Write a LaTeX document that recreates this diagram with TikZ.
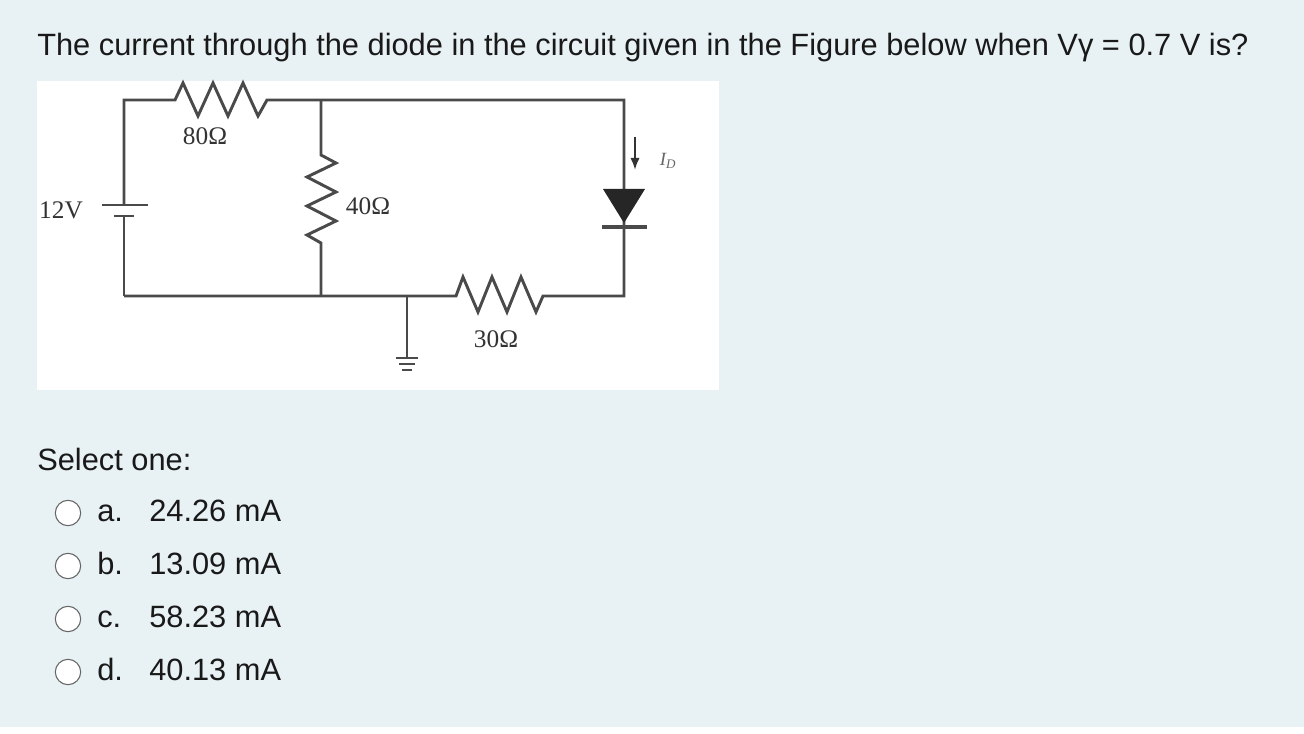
\documentclass[tikz,border=0pt]{standalone}
\usepackage{fontspec}
\usetikzlibrary{arrows.meta}
\setmainfont{Liberation Sans}
\newfontfamily\serifc{Liberation Serif}
\definecolor{bgc}{HTML}{E8F1F4}
\definecolor{wirec}{HTML}{4A4A4A}
\begin{document}
\begin{tikzpicture}[x=0.75pt,y=-0.75pt,
  wire/.style={draw=wirec,line width=2.2pt,line join=miter},
  qtext/.style={anchor=base west,inner sep=0,font=\fontsize{23.1}{26}\selectfont,text=black!90},
  otext/.style={anchor=base west,inner sep=0,font=\fontsize{23.1}{26}\selectfont,text=black!90},
  clab/.style={inner sep=0,font=\serifc\fontsize{19}{22}\selectfont,text=black!80},
  radio/.style={draw=black!60,line width=0.8pt,fill=white,circle,minimum size=19pt,inner sep=0}]
\fill[bgc] (0,0) rectangle (1304,734);
\fill[white] (0,727) rectangle (1304,734);
\fill[white] (37,81) rectangle (719,390);
\node[qtext] (title) at (37,56) {The current through the diode in the circuit given in the Figure below when Vγ = 0.7 V is?};
% circuit coordinates
\coordinate (tl) at (124,100);
\coordinate (bl) at (124,296);
\coordinate (tm) at (321,100);
\coordinate (bm) at (321,296);
\coordinate (tr) at (624,100);
\coordinate (br) at (624,296);
\coordinate (gnd) at (407,296);
% top left, 80 ohm
\draw[wire] (bl) -- (124,216);
\draw[wire] (124,205) -- (tl) -- (175,100) -- (183,83) -- (198,116) -- (213,83) -- (228,116) -- (243,83) -- (258,116) -- (267,100) -- (tm) -- (tr) -- (624,227);
% battery
\draw[wire] (102,205) -- (148,205);
\draw[wire] (114,216) -- (134,216);
% 40 ohm
\draw[wire] (tm) -- (321,155) -- (336,163) -- (307,177) -- (336,192) -- (307,206) -- (336,221) -- (307,235) -- (321,243) -- (bm);
% bottom
\draw[wire] (bl) -- (bm) -- (gnd) -- (456,296) -- (463,277) -- (478,312) -- (492,277) -- (507,312) -- (521,277) -- (536,312) -- (543,296) -- (br) -- (624,227);
% ground
\draw[wire] (gnd) -- (407,358);
\draw[wire] (396,358) -- (418,358);
\draw[wire] (399,364) -- (415,364);
\draw[wire] (402,370) -- (412,370);
% diode
\fill[black!85] (603,189) -- (645,189) -- (624,223) -- cycle;
\draw[wire,line width=3pt] (602,227) -- (647,227);
\draw[black!80,line width=1.6pt,-{Latex[length=9pt,width=7pt]}] (635,137) -- (635,170);
% labels
\node[clab] (l80) at (205,136) {80Ω};
\node[clab] (l40) at (368,206) {40Ω};
\node[clab] (l30) at (496,339) {30Ω};
\node[clab] (l12) at (61,210) {12V};
\node[clab,font=\serifc\itshape\fontsize{14}{16}\selectfont,text=black!60] (lid) at (668,161) {I\textsubscript{D}};
% options
\node[qtext] (sel) at (37,470) {Select one:};
\foreach \y/\l/\v [count=\i] in {513/a./24.26 mA,566/b./13.09 mA,619/c./58.23 mA,672/d./40.13 mA}{
  \node[radio] (r\i) at (68,\y) {};
  \node[otext] (o\i) at (97,\y+8.5) {\l};
  \node[otext] (v\i) at (149,\y+8.5) {\v};
}
\end{tikzpicture}
\end{document}
